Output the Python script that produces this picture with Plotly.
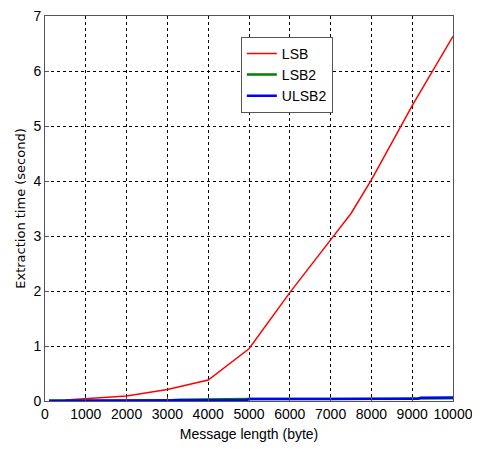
import plotly.graph_objects as go

# extraction time vs message length
lsb_x = [500, 1000, 2000, 3000, 4000, 5000, 6000, 7000, 7500, 8000, 9000, 10000]
lsb_y = [0.02, 0.04, 0.09, 0.21, 0.38, 0.95, 1.97, 2.93, 3.41, 4.02, 5.37, 6.63]

lsb2_x = [100, 3000, 3300, 4000, 5000, 7000, 9000, 10000]
lsb2_y = [0.005, 0.01, 0.025, 0.03, 0.035, 0.035, 0.04, 0.05]

ulsb2_x = [100, 4000, 4200, 4950, 5000, 9150, 9200, 10000]
ulsb2_y = [0.005, 0.01, 0.02, 0.02, 0.035, 0.04, 0.06, 0.065]

fig = go.Figure()
fig.add_trace(go.Scatter(x=lsb_x, y=lsb_y, mode="lines", name="LSB",
                         line=dict(color="#ff0000", width=1.5)))
fig.add_trace(go.Scatter(x=lsb2_x, y=lsb2_y, mode="lines", name="LSB2",
                         line=dict(color="#008000", width=2.5)))
fig.add_trace(go.Scatter(x=ulsb2_x, y=ulsb2_y, mode="lines", name="ULSB2",
                         line=dict(color="#0000ff", width=2.5)))

axis_style = dict(
    showgrid=True, gridcolor="black", gridwidth=1, griddash="3px,3px",
    showline=True, linecolor="#555555", linewidth=1, mirror=True,
    ticks="inside", ticklen=4, tickcolor="#555555", automargin=False,
    zeroline=False, tickfont=dict(size=14, color="black"),
    ticklabeloverflow="allow",
)

fig.update_layout(
    width=480, height=452,
    margin=dict(l=37, r=35, t=8, b=59),
    paper_bgcolor="white", plot_bgcolor="white",
    font=dict(family="Liberation Sans, Arial, sans-serif", size=12, color="black"),
    xaxis=dict(range=[0, 10000], dtick=1000, tickformat="d",
               title=dict(text="Message length (byte)", standoff=8), **axis_style),
    yaxis=dict(range=[0, 7], dtick=1, tickformat="d",
               title=dict(text="Extraction time (second)", standoff=4,
                          font=dict(family="DejaVu Sans", size=13)), **axis_style),
    legend=dict(x=0.48, y=0.946, xanchor="left", yanchor="top",
                bgcolor="white", bordercolor="#555555", borderwidth=1,
                font=dict(size=14), tracegroupgap=2),
    showlegend=True,
)

fig.write_html("out.html")
